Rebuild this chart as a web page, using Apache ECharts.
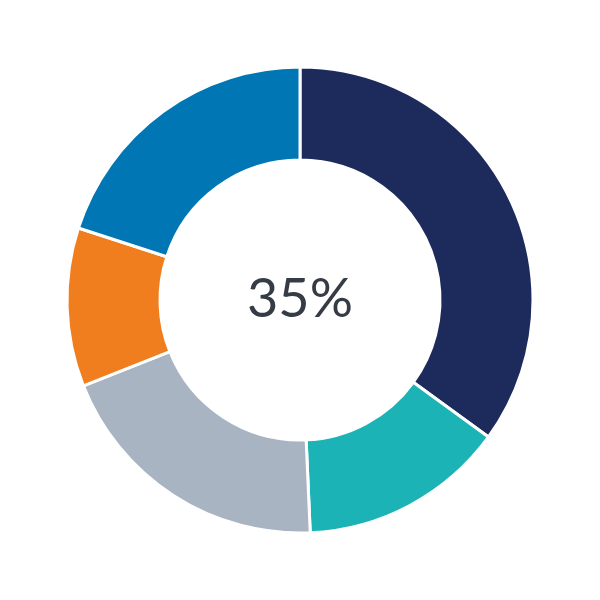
<!DOCTYPE html>
<html><head><meta charset="utf-8">
<script src="https://cdn.jsdelivr.net/npm/echarts@6/dist/echarts.min.js"></script>
<style>html,body{margin:0;padding:0;background:#fff}#c{width:600px;height:600px}</style>
</head><body><div id="c"></div>
<script>
const categories = ['A', 'B', 'C', 'D', 'E'];
const values = [35, 14.3, 19.7, 11, 20];
const colors = ['#1c2b5b', '#1bb3b6', '#a9b4c3', '#f07e1f', '#0176b4'];
const centerLabel = '35%';

const chart = echarts.init(document.getElementById('c'));
chart.setOption({
  animation: false,
  title: {
    text: centerLabel,
    left: 'center', top: 'middle',
    textStyle: { fontFamily: 'Lato', fontWeight: 400, fontSize: 54, color: '#363c46' }
  },
  series: [{
    type: 'pie',
    center: ['50%', '50%'],
    radius: [140, 233],
    startAngle: 90,
    clockwise: true,
    label: { show: false },
    labelLine: { show: false },
    itemStyle: { borderColor: '#ffffff', borderWidth: 3 },
    data: categories.map((c, i) => ({ name: c, value: values[i], itemStyle: { color: colors[i] } }))
  }]
});
</script></body></html>
